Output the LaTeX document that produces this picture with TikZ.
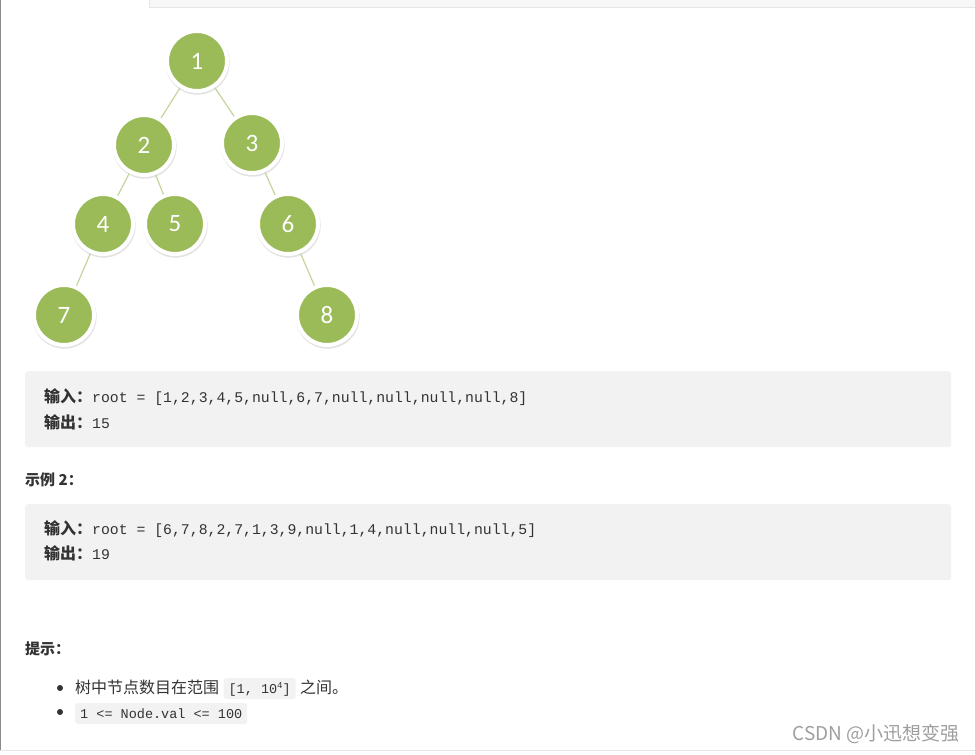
\documentclass[tikz,border=0pt]{standalone}
\usepackage{fontspec}
\setmainfont{Noto Sans CJK SC}
\setmonofont{Liberation Mono}
\newfontfamily\digitfont{Carlito}
\usetikzlibrary{positioning,shadows}
\definecolor{leafgreen}{HTML}{9BBB59}
\definecolor{edgegreen}{HTML}{C3D69B}
\definecolor{boxgray}{HTML}{F2F2F2}
\definecolor{textdark}{HTML}{333333}
\tikzset{
	treenode/.style={draw=white, circle, line width=4pt, fill=leafgreen, minimum size=60pt, inner sep=0, text=white, font=\digitfont\fontsize{25}{25}\selectfont, drop shadow={opacity=0.22, shadow xshift=0.5pt, shadow yshift=-1.5pt, shadow scale=1.07}},
	treeedge/.style={draw=edgegreen, line width=1.2pt},
	codebox/.style={fill=boxgray, rounded corners=3pt, anchor=north west, minimum width=926pt, minimum height=76pt},
	inlinecode/.style={fill=boxgray, rounded corners=3pt, inner xsep=5pt, inner ysep=4pt, text height=11pt, text depth=2pt, font=\ttfamily\fontsize{13.5}{13.5}\selectfont, text=textdark}
}
\begin{document}
\begin{tikzpicture}[x=1pt, y=-1pt, every node/.append style={text=textdark}]
	\fill[white] (0,0) rectangle (975,755);
	\useasboundingbox (0,0) rectangle (975,755);
	% page frame
	\fill[fill=gray!6, draw=gray!20] (149,-1) rectangle (976,7);
	\draw[gray!90, line width=1pt] (0.5,0) -- (0.5,750);
	\draw[gray!20, line width=1pt] (0,750.5) -- (975,750.5);
	% tree
	\node (n1) [treenode] at (197,61) {1};
	\node (n2) [treenode] at (144,145) {2};
	\node (n3) [treenode] at (252,143) {3};
	\node (n4) [treenode] at (103,224) {4};
	\node (n5) [treenode] at (175,224) {5};
	\node (n6) [treenode] at (288,224) {6};
	\node (n7) [treenode] at (64,315) {7};
	\node (n8) [treenode] at (327,315) {8};
	\draw[treeedge] (n1) -- (n2);
	\draw[treeedge] (n1) -- (n3);
	\draw[treeedge] (n2) -- (n4);
	\draw[treeedge] (n2) -- (n5);
	\draw[treeedge] (n3) -- (n6);
	\draw[treeedge] (n4) -- (n7);
	\draw[treeedge] (n6) -- (n8);
	% example 1
	\node (box1) [codebox] at (25,371) {};
	\node (in1) [anchor=base west, inner xsep=0, font=\fontsize{16}{16}\selectfont] at (44,402) {\textbf{输入：}\texttt{\fontsize{14.8}{14.8}\selectfont root = [1,2,3,4,5,null,6,7,null,null,null,null,8]}};
	\node (out1) [anchor=base west, inner xsep=0, font=\fontsize{16}{16}\selectfont] at (44,428) {\textbf{输出：}\texttt{\fontsize{14.8}{14.8}\selectfont 15}};
	% example 2
	\node (title2) [anchor=base west, inner xsep=0, font=\bfseries\fontsize{15}{15}\selectfont] at (25,485) {示例 2：};
	\node (box2) [codebox] at (25,504) {};
	\node (in2) [anchor=base west, inner xsep=0, font=\fontsize{16}{16}\selectfont] at (44,534) {\textbf{输入：}\texttt{\fontsize{14.8}{14.8}\selectfont root = [6,7,8,2,7,1,3,9,null,1,4,null,null,null,5]}};
	\node (out2) [anchor=base west, inner xsep=0, font=\fontsize{16}{16}\selectfont] at (44,559) {\textbf{输出：}\texttt{\fontsize{14.8}{14.8}\selectfont 19}};
	% hints
	\node (hint) [anchor=base west, inner xsep=0, font=\bfseries\fontsize{15}{15}\selectfont] at (25,654) {提示：};
	\node (dot1) [circle, fill=textdark, inner sep=0, minimum size=6pt] at (60,688) {};
	\node (dot2) [circle, fill=textdark, inner sep=0, minimum size=6pt] at (60,712) {};
	\node (tip1) [anchor=base west, inner xsep=0, font=\fontsize{16}{16}\selectfont] at (75,693) {树中节点数目在范围};
	\node (range) [inlinecode, base right=4pt of tip1] {[1, 10\raisebox{5pt}{\fontsize{9}{9}\selectfont 4}]};
	\node (tip1b) [base right=4pt of range, inner xsep=0, font=\fontsize{16}{16}\selectfont] {之间。};
	\node (tip2) [inlinecode, anchor=base west] at (75,718) {1 <= Node.val <= 100};
	% watermark
	\node (mark) [anchor=base east, inner xsep=0, text=gray!75, font=\fontsize{19}{19}\selectfont] at (960,740) {CSDN @小迅想变强};
\end{tikzpicture}
\end{document}
